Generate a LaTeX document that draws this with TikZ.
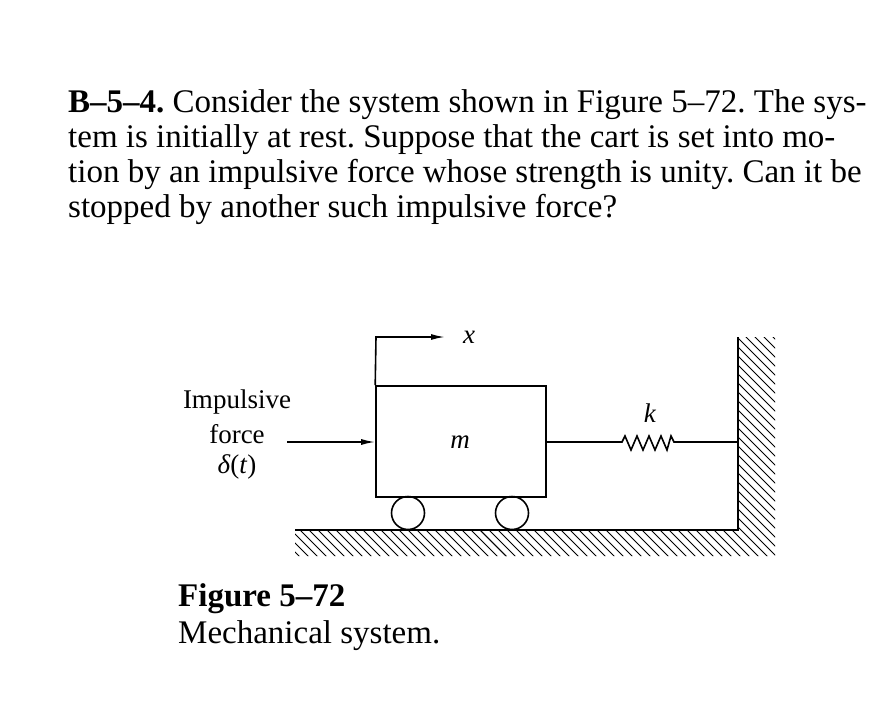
\documentclass[tikz,border=0pt]{standalone}
\usepackage{fontspec}
\setmainfont{Liberation Serif}
\usetikzlibrary{arrows.meta}
\frenchspacing
\begin{document}
\begin{tikzpicture}[x=1pt,y=-1pt,
  txt/.style={anchor=base west,inner sep=0pt,font=\fontsize{33}{38}\selectfont},
  lab/.style={inner sep=0pt,font=\fontsize{27}{30}\selectfont},
  ln/.style={line width=1.6pt},
  hat/.style={line width=0.8pt},
  arr/.style={ln,-{Latex[length=14pt,width=6pt]}}]
\useasboundingbox (0,0) rectangle (894,704);
\node[txt] (l1) at (68,112) {\textbf{B–5–4.} Consider the system shown in Figure 5–72. The sys-};
\node[txt] (l2) at (68,147) {tem is initially at rest. Suppose that the cart is set into mo-};
\node[txt] (l3) at (68,182) {tion by an impulsive force whose strength is unity. Can it be};
\node[txt] (l4) at (68,217) {stopped by another such impulsive force?};
% hatching
\begin{scope}
\clip (295,530) -- (738,530) -- (738,337) -- (775,337) -- (775,556) -- (295,556) -- cycle;
\foreach \i in {0,9,...,720}{\draw[hat] (260+\i,310) -- ++(260,260);}
\foreach \i in {0,9,...,720}{\draw[hat] (260-\i,310) -- ++(260,260);}
\end{scope}
\draw[ln] (295,530) -- (738,530) -- (738,337);
% cart
\node[draw,ln,minimum width=170pt,minimum height=111pt,inner sep=0pt] (m) at (461,441.5) {};
\node[lab] (mlab) at (460,442) {\textit{m}};
\node[draw,ln,circle,minimum size=33pt,inner sep=0pt] (w1) at (408,513) {};
\node[draw,ln,circle,minimum size=33pt,inner sep=0pt] (w2) at (512,513) {};
% spring
\coordinate (s1) at (622,442);
\coordinate (s2) at (674,442);
\coordinate (wall) at (738,442);
\draw[ln] (m.east |- s1) -- (s1) -- (625,436) -- (631,450) -- (637,436) -- (643,450) -- (649,436) -- (655,450) -- (661,436) -- (667,450) -- (671,436) -- (s2) -- (wall);
\node[lab] (k) at (650,413) {\textit{k}};
% x arrow
\coordinate (xc) at (376,337);
\coordinate (xe) at (445,337);
\draw[arr] (m.north west) -- (xc) -- (xe);
\node[lab] (xl) at (469,337) {\textit{x}};
% force
\coordinate (fs) at (287,442);
\draw[arr] (fs) -- (m.west |- fs);
\node[lab] (f1) at (237,402) {Impulsive};
\node[lab] (f2) at (237,434) {force};
\node[lab] (f3) at (237,467) {\textit{δ}(\textit{t})};
% caption
\node[txt,font=\fontsize{33}{38}\selectfont\bfseries] (c1) at (178,606) {Figure 5–72};
\node[txt,font=\fontsize{33}{38}\selectfont] (c2) at (178,643) {Mechanical system.};
\end{tikzpicture}
\end{document}
